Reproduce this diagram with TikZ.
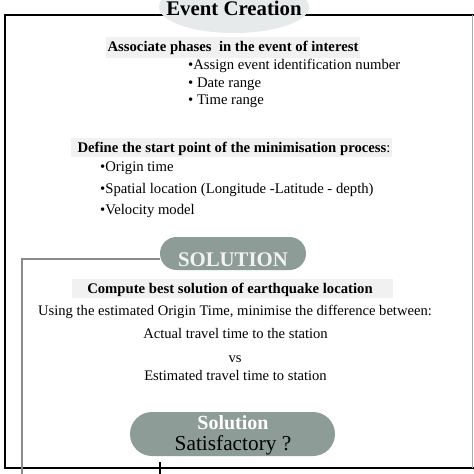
\documentclass[tikz,border=0pt]{standalone}
\usepackage{fontspec}
\setmainfont{Liberation Serif}
\usetikzlibrary{shapes.geometric,shapes.misc}
\definecolor{pillgray}{HTML}{8E9C98}
\definecolor{ellgray}{HTML}{E7EAEA}
\definecolor{hlgray}{HTML}{F1F1F1}
\definecolor{linegray}{HTML}{878C8B}
\tikzset{
  heading/.style={fill=hlgray, inner sep=0pt},
  headtext/.style={inner sep=0pt, anchor=base, font=\fontsize{14.7}{16}\selectfont\bfseries},
  plain/.style={inner sep=0pt, anchor=base, font=\fontsize{14.6}{16}\selectfont},
  bullet/.style={inner sep=0pt, anchor=base west, font=\fontsize{14.7}{16}\selectfont},
  pill/.style={rounded rectangle, fill=pillgray, inner sep=0pt},
  frame/.style={line width=2pt, black},
  grayline/.style={line width=1.4pt, linegray},
}
\begin{document}
\begin{tikzpicture}[x=1pt,y=-1pt]
\useasboundingbox (0,0) rectangle (474,474);
% outer frame
\draw[frame] (474,15) -- (5,15) -- (5,468) -- (474,468);
\draw[grayline, linegray!70] (472.5,15) -- (472.5,468);
% title ellipse
\node[ellipse, fill=ellgray, minimum width=150pt, minimum height=52pt, inner sep=0pt] (ell) at (234,7) {};
\node[inner sep=0pt, anchor=base, font=\fontsize{20.8}{22}\selectfont\bfseries] (title) at (234,15.5) {Event Creation};
% first block
\node[heading, minimum width=254pt, minimum height=21pt] (h1) at (233,47.5) {};
\node[headtext] (h1t) at (233,51) {Associate phases \ in the event of interest};
\node[bullet] (b1) at (188,69.5) {•Assign event identification number};
\node[bullet] (b2) at (188,87) {• Date range};
\node[bullet] (b3) at (188,104.5) {• Time range};
% second block
\node[heading, minimum width=321pt, minimum height=19pt] (h2) at (231.5,147.5) {};
\node[headtext] (h2t) at (234,152) {Define the start point of the minimisation process\textmd{:}};
\node[bullet] (c1) at (100,171) {•Origin time};
\node[bullet] (c2) at (100,193.5) {•Spatial location (Longitude -Latitude - depth)};
\node[bullet] (c3) at (100,214) {•Velocity model};
% solution pill
\node[pill, minimum width=146pt, minimum height=33pt] (sol) at (233,253.5) {};
\node[inner sep=0pt, anchor=base, text=white!88!pillgray, font=\fontsize{20.8}{22}\selectfont\bfseries] (solt) at (233,266) {SOLUTION};
\node[heading, minimum width=321pt, minimum height=19pt] (h3) at (232.5,288.5) {};
\node[headtext] (h3t) at (230,293.5) {Compute best solution of earthquake location};
\node[plain] (use) at (235,315.5) {Using the estimated Origin Time, minimise the difference between:};
\node[plain] (act) at (235.5,338) {Actual travel time to the station};
\node[plain] (vs) at (235,362.5) {vs};
\node[plain] (est) at (235.5,380) {Estimated travel time to station};
% satisfactory pill
\node[pill, minimum width=205pt, minimum height=44pt] (sat) at (232.5,434) {};
\node[inner sep=0pt, anchor=base, text=white, font=\fontsize{20}{22}\selectfont\bfseries] (satt1) at (233,429) {Solution};
\node[inner sep=0pt, anchor=base, font=\fontsize{21.3}{23}\selectfont] (satt2) at (233,450.5) {Satisfactory ?};
% connectors
\coordinate (loopcorner) at (22,259);
\coordinate (loopend) at (22,474);
\draw[grayline] (sol.west |- loopcorner) -- (loopcorner) -- (loopend);
\coordinate (tickstart) at (160,462);
\coordinate (tickend) at (160,474);
\draw[line width=2pt] (tickstart) -- (tickend);
\end{tikzpicture}
\end{document}
